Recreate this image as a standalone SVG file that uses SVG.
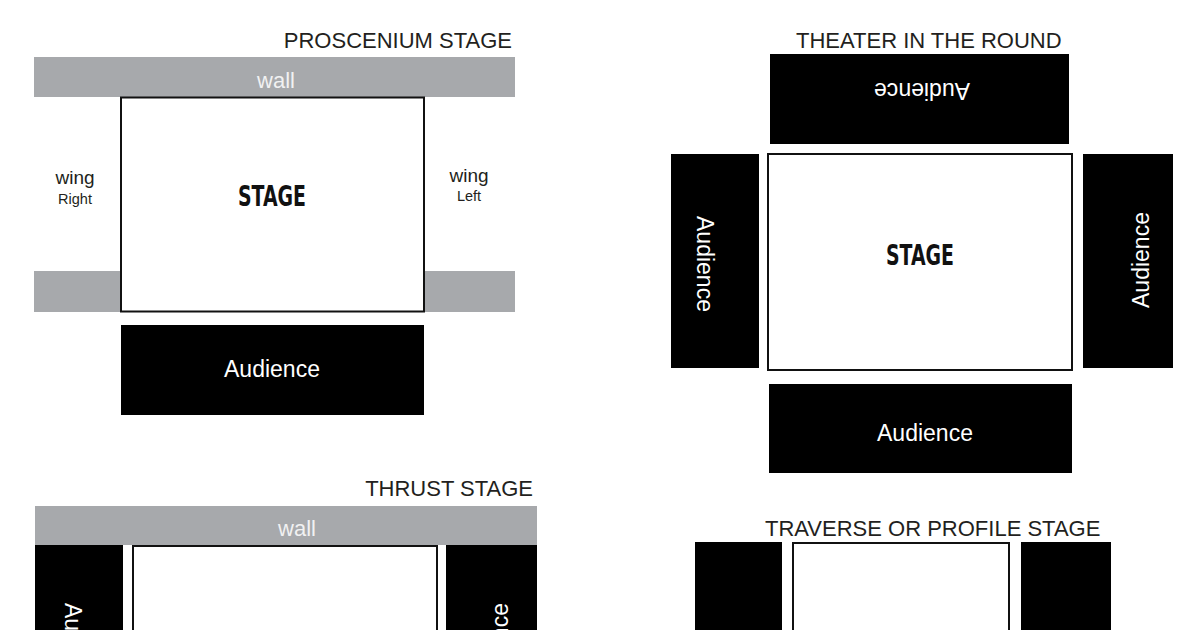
<svg xmlns="http://www.w3.org/2000/svg" width="1200" height="630" viewBox="0 0 1200 630">
<style>
.bg{fill:#ffffff}
.wall{fill:#a7a9ac}
.aud{fill:#000000}
.stage{fill:#ffffff;stroke:#111111;stroke-width:2}
.title{font-family:"Liberation Sans",Arial,sans-serif;font-size:22px;fill:#231f20}
.walltxt{font-family:"Liberation Sans",Arial,sans-serif;font-size:22px;fill:#f1f1f2;text-anchor:middle}
.audtxt{font-family:"Liberation Sans",Arial,sans-serif;font-size:23px;fill:#ffffff;text-anchor:middle}
.wing{font-family:"Liberation Sans",Arial,sans-serif;font-size:19px;fill:#231f20;text-anchor:middle}
.side{font-family:"Liberation Sans",Arial,sans-serif;font-size:14.5px;fill:#231f20;text-anchor:middle}
.stg{font-family:"Liberation Sans Narrow","DejaVu Sans Condensed","Liberation Sans",sans-serif;font-size:29px;font-weight:bold;fill:#111111;text-anchor:middle}
</style>
<rect class="bg" x="0" y="0" width="1200" height="630"/>

<g id="proscenium">
  <text class="title" x="512" y="48" text-anchor="end">PROSCENIUM STAGE</text>
  <g id="pro-wall">
    <rect class="wall" x="34" y="57" width="481" height="40"/>
    <text class="walltxt" x="276" y="88">wall</text>
  </g>
  <rect class="wall" x="34" y="271" width="87" height="41"/>
  <rect class="wall" x="424" y="271" width="91" height="41"/>
  <g id="pro-stage">
    <rect class="stage" x="121" y="97.5" width="303" height="214"/>
    <text class="stg" x="272" y="206" textLength="68" lengthAdjust="spacingAndGlyphs">STAGE</text>
  </g>
  <g id="pro-wing-right">
    <text class="wing" x="75" y="184">wing</text>
    <text class="side" x="75" y="204">Right</text>
  </g>
  <g id="pro-wing-left">
    <text class="wing" x="469" y="182">wing</text>
    <text class="side" x="469" y="201">Left</text>
  </g>
  <g id="pro-audience">
    <rect class="aud" x="121" y="325" width="303" height="90"/>
    <text class="audtxt" x="272" y="377">Audience</text>
  </g>
</g>

<g id="round">
  <text class="title" x="796" y="48">THEATER IN THE ROUND</text>
  <g id="round-aud-top">
    <rect class="aud" x="770" y="54" width="299" height="90"/>
    <text class="audtxt" x="922" y="100" transform="rotate(180 922 91.5)">Audience</text>
  </g>
  <g id="round-aud-left">
    <rect class="aud" x="671" y="154" width="88" height="214"/>
    <text class="audtxt" x="705" y="272" transform="rotate(90 705 264)">Audience</text>
  </g>
  <g id="round-stage">
    <rect class="stage" x="768" y="154" width="304" height="216"/>
    <text class="stg" x="920" y="265" textLength="68" lengthAdjust="spacingAndGlyphs">STAGE</text>
  </g>
  <g id="round-aud-right">
    <rect class="aud" x="1083" y="154" width="90" height="214"/>
    <text class="audtxt" x="1141" y="268" transform="rotate(-90 1141 260)">Audience</text>
  </g>
  <g id="round-aud-bottom">
    <rect class="aud" x="769" y="384" width="303" height="89"/>
    <text class="audtxt" x="925" y="441">Audience</text>
  </g>
</g>

<g id="thrust">
  <text class="title" x="533" y="496" text-anchor="end">THRUST STAGE</text>
  <g id="thrust-wall">
    <rect class="wall" x="35" y="506" width="502" height="39"/>
    <text class="walltxt" x="297" y="536">wall</text>
  </g>
  <g id="thrust-aud-left">
    <rect class="aud" x="35" y="545" width="88" height="100"/>
    <text class="audtxt" x="73" y="659" transform="rotate(90 73 651)">Audience</text>
  </g>
  <g id="thrust-stage">
    <rect class="stage" x="133" y="546" width="304" height="100"/>
  </g>
  <g id="thrust-aud-right">
    <rect class="aud" x="446" y="545" width="91" height="100"/>
    <text class="audtxt" x="500" y="659" transform="rotate(-90 500 651)">Audience</text>
  </g>
</g>

<g id="traverse">
  <text class="title" x="765" y="536">TRAVERSE OR PROFILE STAGE</text>
  <g id="trav-aud-left">
    <rect class="aud" x="695" y="542" width="87" height="100"/>
  </g>
  <g id="trav-stage">
    <rect class="stage" x="793" y="543" width="216" height="100"/>
  </g>
  <g id="trav-aud-right">
    <rect class="aud" x="1021" y="542" width="90" height="100"/>
  </g>
</g>
</svg>
